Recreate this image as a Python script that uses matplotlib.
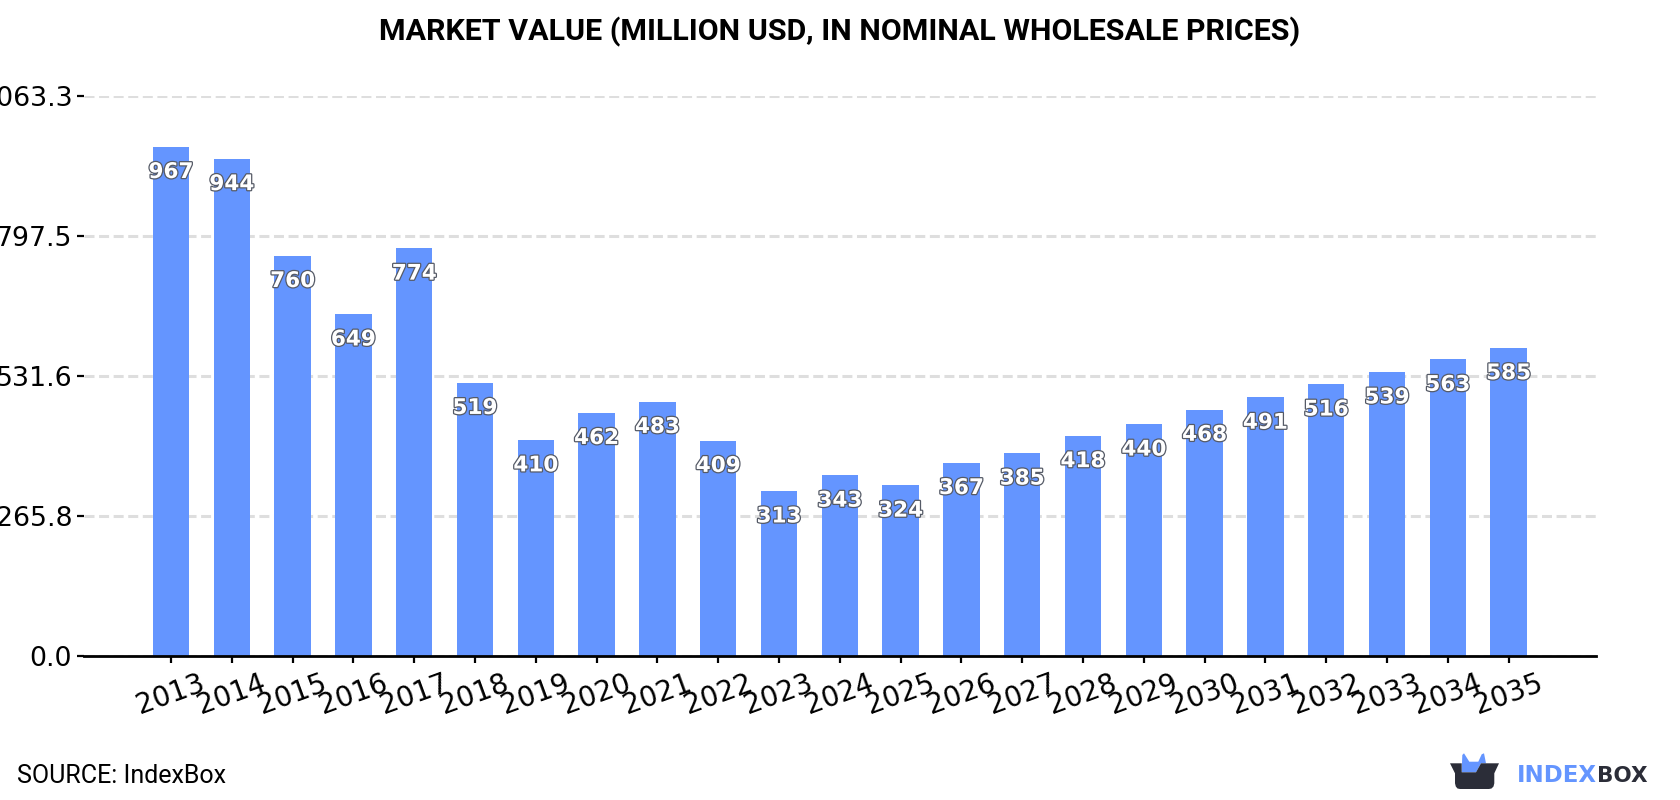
import matplotlib
matplotlib.use("Agg")
import matplotlib.pyplot as plt
import matplotlib.patheffects as pe
from matplotlib.patches import Polygon

years = list(range(2013, 2036))
values = [967, 944, 760, 649, 774, 519, 410, 462, 483, 409, 313, 343, 324,
          367, 385, 418, 440, 468, 491, 516, 539, 563, 585]
y_ticks = [0.0, 265.8, 531.6, 797.5, 1063.3]

BAR = "#6495ff"
DARK = "#2b2d38"
W, H = 1680, 800

fig = plt.figure(figsize=(W / 100, H / 100), dpi=100, facecolor="white")
ax = fig.add_axes([84 / W, 1 - 656 / H, (1596 - 84) / W, (656 - 96) / H])

ax.bar(years, values, width=0.6, color=BAR, zorder=2)
ax.set_xlim(2013 - 1.43, 2013 - 1.43 + (1596 - 84) / 60.8)
ax.set_ylim(0, 1063.3)

ax.set_yticks(y_ticks, [f"{v:.1f}" for v in y_ticks])
ax.set_xticks(years, [str(y) for y in years], rotation=20, ha="center")
ax.tick_params(axis="y", labelsize=19.3, length=5, width=1.6, pad=3.5, color="black")
ax.tick_params(axis="x", labelsize=20, length=5, width=1.6, pad=4.5, color="black")
ax.grid(axis="y", color="#dedede", linewidth=2.2, linestyle=(0, (3.27, 1.5)), zorder=1)
ax.set_axisbelow(True)
for name in ("top", "right", "left"):
    ax.spines[name].set_visible(False)
ax.spines["bottom"].set_linewidth(2)
ax.spines["bottom"].set_zorder(5)

# Value labels sit just inside the top of each bar
for year, value in zip(years, values):
    ax.annotate(str(value), (year, value), xytext=(0, -18.2), textcoords="offset points",
                ha="center", va="center", fontsize=15.5, fontweight="bold", color="white",
                family="DejaVu Sans", zorder=6,
                path_effects=[pe.withStroke(linewidth=1.8, foreground="#555a66")])

fig.text(0.5, 1 - 32 / H, "MARKET VALUE (MILLION USD, IN NOMINAL WHOLESALE PRICES)",
         ha="center", va="center", fontsize=21.9, fontweight="bold",
         family="Roboto", color="black")
fig.text(17 / W, 1 - 776 / H, "SOURCE: IndexBox", ha="left", va="center",
         fontsize=18, family="Roboto", color="black")

# Brand mark in the lower right corner, laid out in pixel units
logo = fig.add_axes([0, 0, 1, 1], facecolor="none")
logo.set_xlim(0, W)
logo.set_ylim(H, 0)
logo.axis("off")
logo.add_patch(Polygon([(1461.7, 772.3), (1462.3, 755), (1464, 753.3), (1469.3, 761.7),
                        (1478.3, 761.7), (1481.7, 754.3), (1484, 753.3), (1486, 763.3),
                        (1481, 763.3), (1476, 772.3)],
                       closed=True, facecolor=BAR, edgecolor="none"))
logo.add_patch(Polygon([(1450, 763.3), (1461.7, 763.3), (1461.7, 772.3), (1476, 772.3),
                        (1481, 763.3), (1499, 763.3), (1494.3, 773.3), (1494.3, 783.3),
                        (1493.5, 786.5), (1491.5, 788.5), (1489, 789), (1460, 789),
                        (1457.5, 788.5), (1455.8, 786.5), (1455, 783.3), (1455, 773.3)],
                       closed=True, facecolor=DARK, edgecolor="none"))
logo.text(1517, 782, "INDEX", ha="left", va="baseline", fontsize=16.5, fontweight="bold",
          family="DejaVu Sans", color=BAR)
logo.text(1597, 782, "BOX", ha="left", va="baseline", fontsize=15.5, fontweight="bold",
          family="DejaVu Sans", color=DARK)

fig.savefig("out.png", dpi=100, facecolor="white")
